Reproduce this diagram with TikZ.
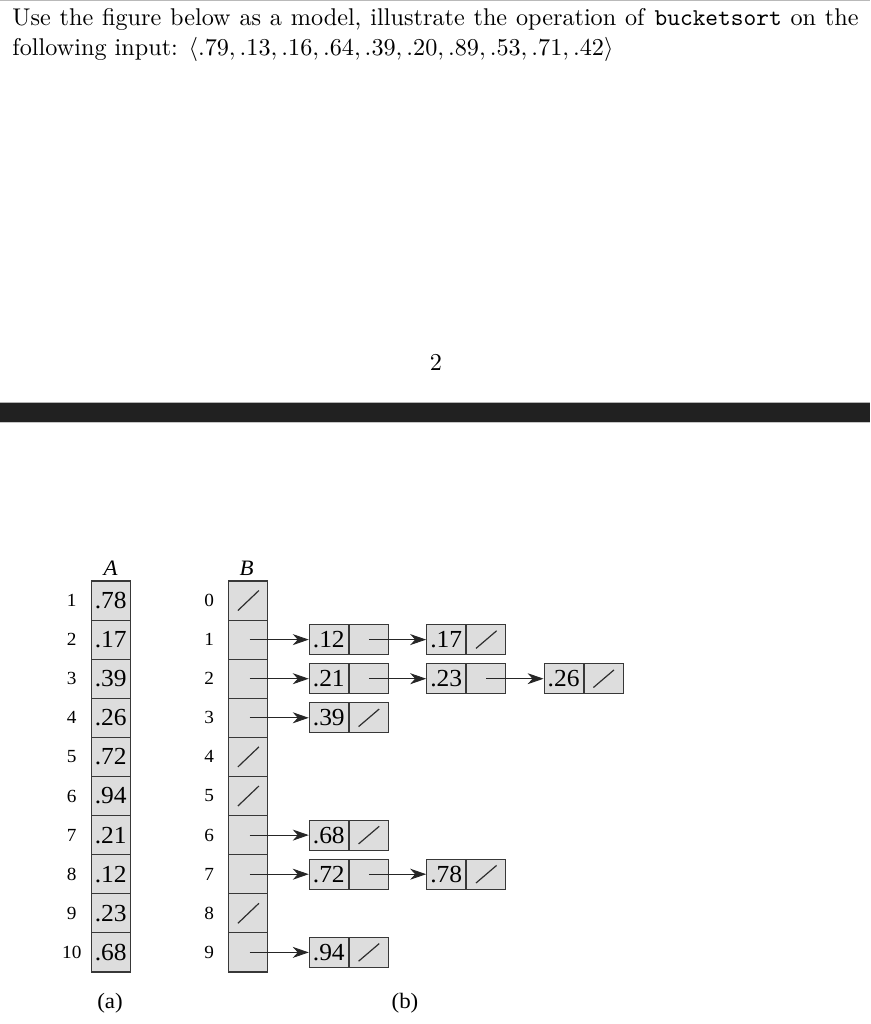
\documentclass[tikz,border=0pt]{standalone}
\usepackage{fontspec}
\usetikzlibrary{arrows.meta}
\newfontfamily\tms{Liberation Serif}[FakeStretch=1.04]
\tikzset{
  cell/.style={draw=black!78, fill=gray!27, line width=1.1pt, minimum width=39pt, minimum height=39.1pt, inner sep=0pt, font=\tms\fontsize{24.5}{24.5}\selectfont},
  lcell/.style={cell, minimum height=30pt},
  idx/.style={font=\tms\fontsize{18.5}{18.5}\selectfont, inner sep=0pt},
  lbl/.style={font=\tms\itshape\fontsize{22}{22}\selectfont, inner sep=0pt},
  captxt/.style={font=\tms\fontsize{22}{22}\selectfont, inner sep=0pt},
  ptr/.style={-{Stealth[length=16pt,width=11pt,inset=5pt]}, line width=0.9pt, draw=black!85},
  nilline/.style={line width=1.2pt, draw=black!82}
}
\begin{document}
\begin{tikzpicture}[x=1pt,y=-1pt]
\useasboundingbox (0,0) rectangle (870,1024);
\fill[white] (0,0) rectangle (870,1024);
% top rule
\draw[gray!55, line width=1.5pt] (0,0.75) -- (870,0.75);
% question text (10pt design, scaled)
\node[anchor=north west, inner sep=0pt, scale=2.42, text width=349.6pt, align=justify,
      font=\fontsize{10}{12.4}\selectfont] (q) at (12,8.2)
 {Use the figure below as a model, illustrate the operation of \texttt{bucketsort} on the\linebreak
  following input: $\langle .79, .13, .16, .64, .39, .20, .89, .53, .71, .42\rangle$};
% page number
\node[inner sep=0pt, scale=2.42, font=\fontsize{10}{12}\selectfont] (pg) at (436,362) {2};
% dark bar
\fill[black!87] (0,402) rectangle (870,423);
\draw[gray!60, line width=1pt] (0,402.5) -- (870,402.5);
\draw[gray!45, line width=0.8pt] (0,422.6) -- (870,422.6);

% array A
\node[lbl] (labA) at (110.5,568) {A};
\foreach \v [count=\i] in {.78,.17,.39,.26,.72,.94,.21,.12,.23,.68} {
  \node[cell] (a\i) at (110.8, 561.4+39.1*\i) {\v};
  \node[idx] (ia\i) at (71.8, 561.4+39.1*\i) {\i};
}
% array B
\node[lbl] (labB) at (246.5,568) {B};
\foreach \i in {0,...,9} {
  \node[cell] (b\i) at (248.4, 600.5+39.1*\i) {};
  \node[idx] (ib\i) at (209.3, 600.5+39.1*\i) {\i};
}
\foreach \i in {0,4,5,8} {
  \draw[nilline] ([shift={(-10.5,10)}]b\i.center) -- ([shift={(10.5,-10)}]b\i.center);
}
% list nodes: row/col/value
\foreach \r/\c/\v in {1/0/.12,1/1/.17,2/0/.21,2/1/.23,2/2/.26,3/0/.39,6/0/.68,7/0/.72,7/1/.78,9/0/.94} {
  \node[lcell] (k\r\c) at (328.8+117.4*\c, 600.5+39.1*\r) {\v};
  \node[lcell, anchor=west] (p\r\c) at (k\r\c.east) {};
}
% nil pointers in lists
\foreach \n in {11,22,30,60,71,90} {
  \draw[nilline] ([shift={(-10.3,8.8)}]p\n.center) -- ([shift={(10.3,-8.8)}]p\n.center);
}
% arrows from buckets
\foreach \r in {1,2,3,6,7,9} {
  \draw[ptr] ([xshift=1.3pt]b\r.center) -- (k\r0.west);
}
% arrows inside lists
\draw[ptr] (p10.center) -- (k11.west);
\draw[ptr] (p20.center) -- (k21.west);
\draw[ptr] (p21.center) -- (k22.west);
\draw[ptr] (p70.center) -- (k71.west);
% captions
\node[captxt] (capa) at (110,1003) {(a)};
\node[captxt] (capb) at (405,1003) {(b)};
\end{tikzpicture}
\end{document}
